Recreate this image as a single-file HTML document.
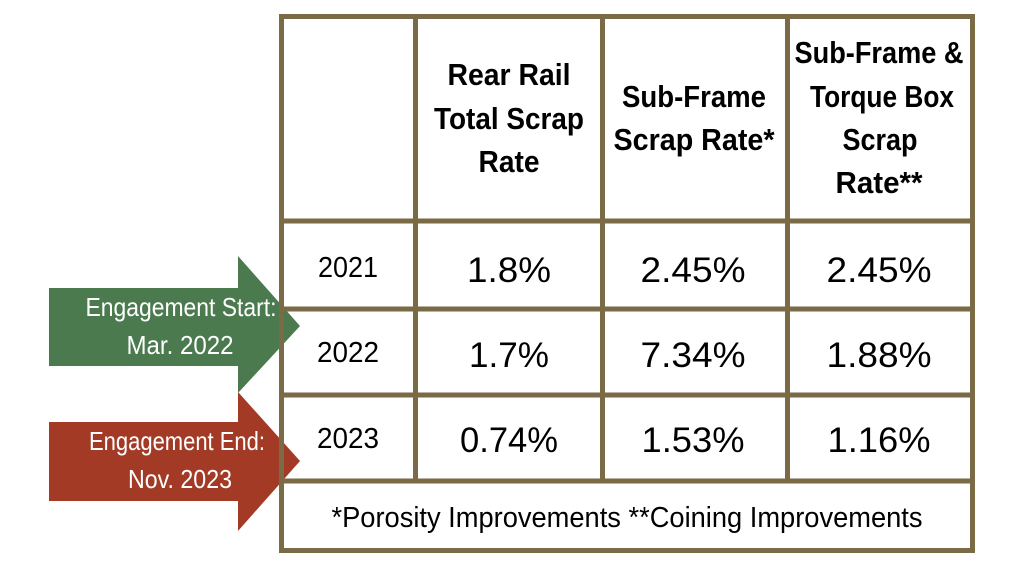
<!DOCTYPE html>
<html><head><meta charset="utf-8"><style>
html,body{margin:0;padding:0;background:#fff;width:1024px;height:566px;overflow:hidden}
svg text{font-family:"Liberation Sans Narrow","Liberation Sans",sans-serif}
</style></head><body>
<svg width="1024" height="566" viewBox="0 0 1024 566">
<g>
<polygon points="49,288 238,288 238,256 300,326 238,393 238,366 49,366" fill="#4a7a4e"/>
<text x="181" y="316" text-anchor="middle" font-size="26" fill="#fff" textLength="191" lengthAdjust="spacingAndGlyphs">Engagement Start:</text>
<text x="180" y="354" text-anchor="middle" font-size="26" fill="#fff" textLength="107" lengthAdjust="spacingAndGlyphs">Mar. 2022</text>
</g>
<g>
<polygon points="49,422 238,422 238,392 300,461 238,531 238,501 49,501" fill="#a33a26"/>
<text x="177" y="450" text-anchor="middle" font-size="26" fill="#fff" textLength="176" lengthAdjust="spacingAndGlyphs">Engagement End:</text>
<text x="180" y="488" text-anchor="middle" font-size="26" fill="#fff" textLength="104" lengthAdjust="spacingAndGlyphs">Nov. 2023</text>
</g>
<g fill="none" stroke="#7a6a45" stroke-width="5">
<rect x="281.5" y="16.5" width="691" height="534"/>
<line x1="415.5" y1="16" x2="415.5" y2="482"/>
<line x1="602.5" y1="16" x2="602.5" y2="482"/>
<line x1="787.5" y1="16" x2="787.5" y2="482"/>
<line x1="281" y1="221" x2="973" y2="221"/>
<line x1="281" y1="309" x2="973" y2="309"/>
<line x1="281" y1="395" x2="973" y2="395"/>
<line x1="281" y1="481" x2="973" y2="481"/>
</g>
<g font-weight="bold" font-size="31" fill="#000" text-anchor="middle">
<text x="509" y="85" textLength="123" lengthAdjust="spacingAndGlyphs">Rear Rail</text>
<text x="509" y="129" textLength="150" lengthAdjust="spacingAndGlyphs">Total Scrap</text>
<text x="509" y="172" textLength="61" lengthAdjust="spacingAndGlyphs">Rate</text>
<text x="694" y="107" textLength="144" lengthAdjust="spacingAndGlyphs">Sub-Frame</text>
<text x="694" y="150" textLength="161" lengthAdjust="spacingAndGlyphs">Scrap Rate*</text>
<text x="879" y="63" textLength="169" lengthAdjust="spacingAndGlyphs">Sub-Frame &amp;</text>
<text x="882" y="107" textLength="144" lengthAdjust="spacingAndGlyphs">Torque Box</text>
<text x="880" y="150" textLength="75" lengthAdjust="spacingAndGlyphs">Scrap</text>
<text x="879" y="193" textLength="87" lengthAdjust="spacingAndGlyphs">Rate**</text>
</g>
<g fill="#000" text-anchor="middle">
<text x="348" y="277" font-size="29" textLength="60" lengthAdjust="spacingAndGlyphs">2021</text>
<text x="509" y="282" font-size="35" textLength="84" lengthAdjust="spacingAndGlyphs">1.8%</text>
<text x="693" y="282" font-size="35" textLength="105" lengthAdjust="spacingAndGlyphs">2.45%</text>
<text x="879" y="282" font-size="35" textLength="105" lengthAdjust="spacingAndGlyphs">2.45%</text>
</g>
<g fill="#000" text-anchor="middle">
<text x="348" y="362" font-size="29" textLength="62" lengthAdjust="spacingAndGlyphs">2022</text>
<text x="509" y="367" font-size="35" textLength="80" lengthAdjust="spacingAndGlyphs">1.7%</text>
<text x="693" y="367" font-size="35" textLength="105" lengthAdjust="spacingAndGlyphs">7.34%</text>
<text x="879" y="367" font-size="35" textLength="105" lengthAdjust="spacingAndGlyphs">1.88%</text>
</g>
<g fill="#000" text-anchor="middle">
<text x="348" y="448" font-size="29" textLength="62" lengthAdjust="spacingAndGlyphs">2023</text>
<text x="509" y="452" font-size="35" textLength="98" lengthAdjust="spacingAndGlyphs">0.74%</text>
<text x="693" y="452" font-size="35" textLength="103" lengthAdjust="spacingAndGlyphs">1.53%</text>
<text x="879" y="452" font-size="35" textLength="103" lengthAdjust="spacingAndGlyphs">1.16%</text>
</g>
<text x="627" y="527" text-anchor="middle" font-size="29" fill="#000" textLength="591" lengthAdjust="spacingAndGlyphs">*Porosity Improvements  **Coining Improvements</text>
</svg>
</body></html>
